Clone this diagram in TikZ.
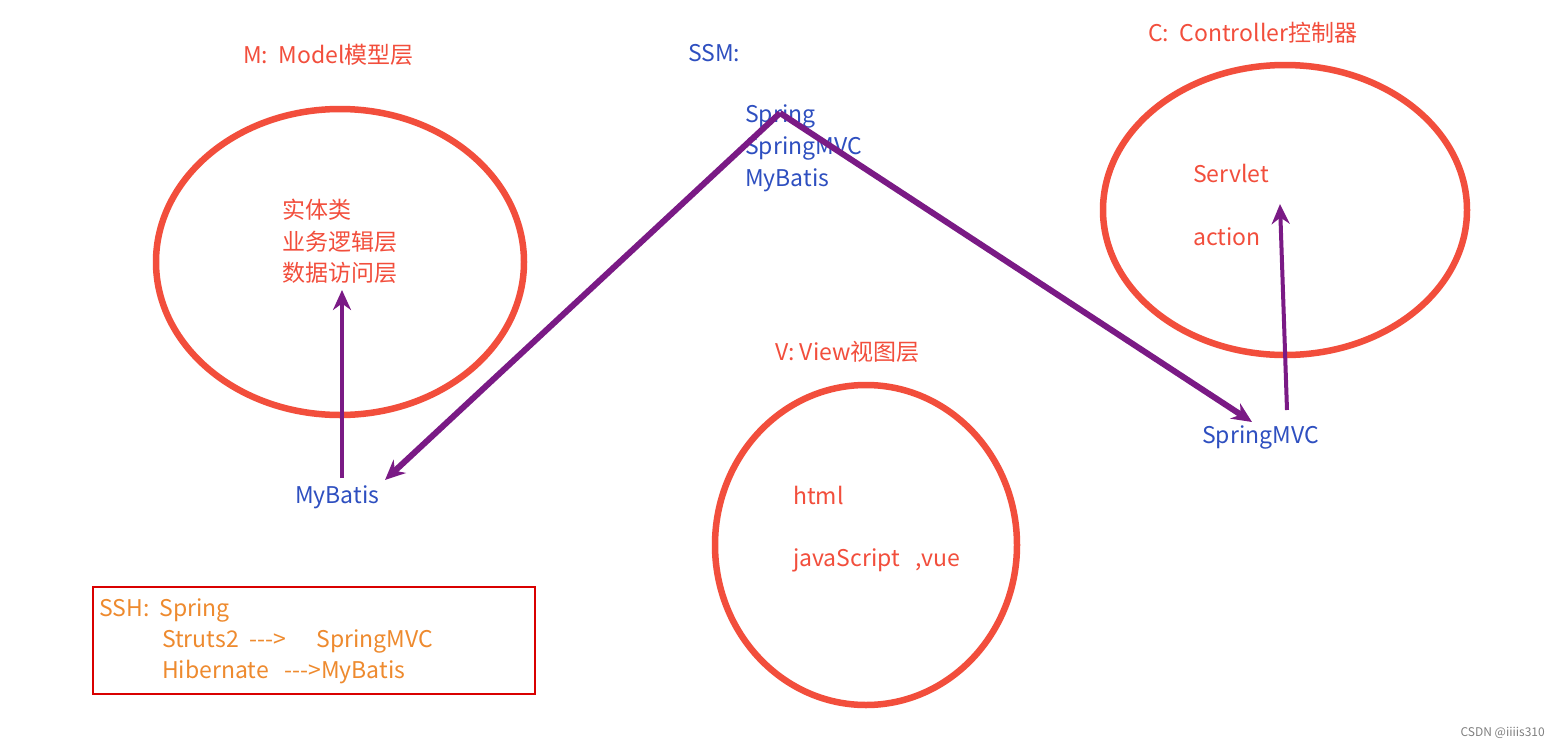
\documentclass[tikz,border=0pt]{standalone}
\usepackage{fontspec}
\setmainfont{Noto Sans CJK SC}
\usetikzlibrary{arrows.meta}
\definecolor{rd}{HTML}{F24E3C}
\definecolor{bl}{HTML}{2E4FC0}
\definecolor{pu}{HTML}{7A1A85}
\definecolor{og}{HTML}{EE8A2E}
\tikzset{ring/.style={draw=rd,line width=6.5pt},
 t/.style={font=\fontsize{23}{26}\selectfont,anchor=west,inner sep=0},
 r/.style={t,text=rd}, b/.style={t,text=bl}, o/.style={t,text=og},
 arr/.style={draw=pu,line width=#1,-{Stealth[length=20pt,width=18pt]}}}
\begin{document}
\begin{tikzpicture}[x=1pt,y=-1pt]
\useasboundingbox[fill=white] (0,0) rectangle (1559,747);
\draw[ring] (340,262) ellipse [x radius=184, y radius=153];
\draw[ring] (1285,210) ellipse [x radius=182, y radius=145];
\draw[ring] (866,545) ellipse [x radius=151, y radius=160];
\node[r] (m) at (243,55) {M:\ \ Model模型层};
\node[b] (ssm) at (688,53) {SSM:};
\node[b] (s1) at (745,116) {Spring};
\node[b] (s2) at (745,148) {SpringMVC};
\node[b] (s3) at (745,180) {MyBatis};
\node[r] (c) at (1148,33) {C:\ \ Controller控制器};
\node[r] (sv) at (1193,173) {Servlet};
\node[r] (ac) at (1193,237) {action};
\node[r] (v) at (775,352) {V: View视图层};
\node[r] (h) at (793,495) {html};
\node[r] (js) at (793,560) {javaScript\ \ \ ,vue};
\node[r] (e1) at (282,210) {实体类};
\node[r] (e2) at (282,242) {业务逻辑层};
\node[r] (e3) at (282,273) {数据访问层};
\node[b] (mb) at (295,497) {MyBatis};
\node[b] (smvc) at (1202,437) {SpringMVC};
\coordinate (top) at (780,113);
\coordinate (mbt) at (385,480);
\coordinate (smt) at (1252,422);
\draw[arr=6pt] (top) -- (mbt);
\draw[arr=6pt] (top) -- (smt);
\draw[arr=4pt] (342,478) -- (342,290);
\draw[arr=4pt] (1287,410) -- (1280,204);
\draw[draw=red!85!black,line width=1.5pt] (93,587) rectangle (535,694);
\node[o] (h1) at (99,610) {SSH:\ \ Spring};
\node[o] (h2) at (162,641) {Struts2\ \ -{}-{}->\ \ \ \ \ \ SpringMVC};
\node[o] (h3) at (162,672) {Hibernate\ \ \ -{}-{}->MyBatis};
\node[anchor=east,inner sep=0,text=gray,font=\fontsize{12}{14}\selectfont] (cs) at (1545,733) {CSDN @iiiis310};
\end{tikzpicture}
\end{document}
